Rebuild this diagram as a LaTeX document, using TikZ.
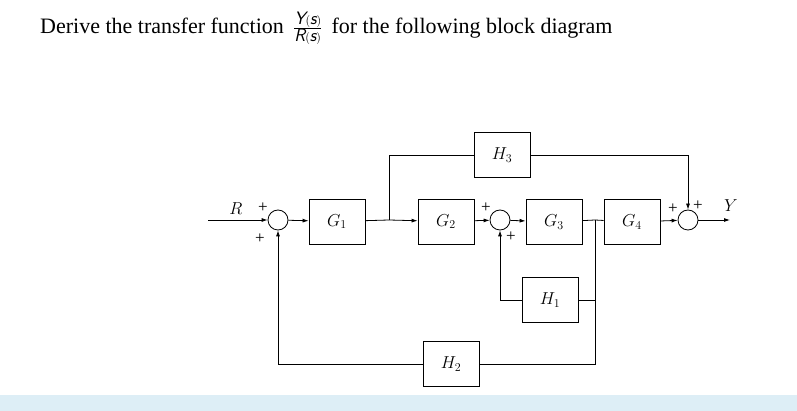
\documentclass[tikz,border=0pt]{standalone}
\usepackage{fontspec}
\setmainfont{Liberation Serif}
\usetikzlibrary{arrows.meta}
\begin{document}
\begin{tikzpicture}[x=1pt,y=-1pt,
  blk/.style={draw,line width=0.8pt,minimum width=56pt,minimum height=45pt,inner sep=0pt,font=\fontsize{18}{18}\selectfont},
  sum/.style={draw,circle,line width=0.8pt,minimum size=20pt,inner sep=0pt},
  ln/.style={line width=0.8pt},
  ar/.style={line width=0.8pt,-{Latex[length=6pt,width=4pt]}},
  sg/.style={font=\fontsize{17}{17}\selectfont,inner sep=0pt}]
\useasboundingbox (0,0) rectangle (797,411);
\fill[fill={rgb,255:red,221;green,238;blue,246}] (0,395) rectangle (797,411);
\node[anchor=west,font=\fontsize{22}{22}\selectfont,inner sep=0pt] (title) at (40,28)
 {Derive the transfer function\, \raisebox{0.15ex}{\fontsize{18}{18}\selectfont$\frac{\textsf{\itshape Y}(\textsf{\itshape s})}{\textsf{\itshape R}(\textsf{\itshape s})}$}\, for the following block diagram};
\coordinate (in) at (208,220);
\node[sum] (s1) at (278,220) {};
\node[blk] (g1) at (337,221.5) {$G_1$};
\coordinate (b1) at (389,220);
\node[blk] (g2) at (446,221.5) {$G_2$};
\node[sum] (s2) at (500,220) {};
\node[blk] (g3) at (554,222) {$G_3$};
\coordinate (b2) at (595,220);
\node[blk] (g4) at (632,222) {$G_4$};
\node[sum] (s3) at (688,220) {};
\coordinate (out) at (730,220);
\node[blk] (h3) at (502,155) {$H_3$};
\node[blk] (h1) at (550,300) {$H_1$};
\node[blk] (h2) at (451,364) {$H_2$};
\node[font=\fontsize{18}{18}\selectfont] (R) at (236,209) {$R$};
\node[font=\fontsize{18}{18}\selectfont] (Y) at (731,206) {$Y$};
\draw[ar] (in) -- (s1);
\draw[ar] (s1) -- (g1);
\draw[ln] (g1) -- (b1);
\draw[ar] (b1) -- (g2);
\draw[ar] (g2) -- (s2);
\draw[ar] (s2) -- (g3);
\draw[ln] (g3) -- (b2);
\draw[ln] (b2) -- (g4);
\draw[ar] (g4) -- (s3);
\draw[ar] (s3) -- (out);
\draw[ln] (b1) |- (h3);
\draw[ar] (h3) -| (s3);
\draw[ln] (b2) |- (h1);
\draw[ar] (h1) -| (s2);
\draw[ln] (b2) |- (h2);
\draw[ar] (h2) -| (s1);
\node[sg] (p1) at (263,208) {+};
\node[sg] (p2) at (260,239) {+};
\node[sg] (p3) at (486,208) {+};
\node[sg] (p4) at (511,237) {+};
\node[sg] (p5) at (673,209) {+};
\node[sg] (p6) at (698,206) {+};
\end{tikzpicture}
\end{document}
